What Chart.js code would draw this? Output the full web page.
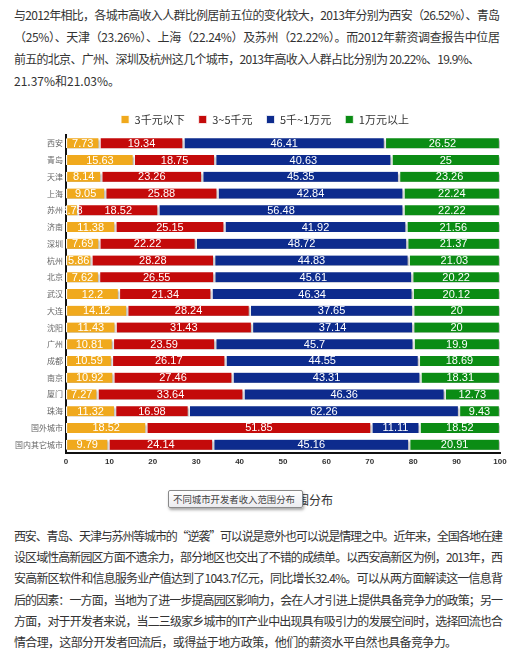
<!DOCTYPE html>
<html><head><meta charset="utf-8">
<script src="https://cdn.jsdelivr.net/npm/chart.js@4.4.0/dist/chart.umd.min.js"></script>
<style>
body{margin:0;width:517px;height:654px;background:#fff;position:relative;overflow:hidden;font-family:"Noto Sans CJK SC","Liberation Sans",sans-serif;color:#333}
.ln{position:absolute;left:14px;white-space:nowrap;font-size:12px;line-height:16px;height:16px}
#wrap{position:absolute;left:0;top:100px;width:517px;height:370px}
#cap{position:absolute;left:177px;top:492px;font-size:12px;line-height:16px;color:#333;white-space:nowrap}
#tip{position:absolute;left:168px;top:490px;width:135px;height:18px;box-sizing:border-box;border:1px solid #8a8a8a;border-radius:2px;background:linear-gradient(#ffffff,#ececf0);box-shadow:1px 2px 3px rgba(0,0,0,0.35);font-size:9.4px;line-height:16px;color:#444;padding-left:4px;white-space:nowrap;overflow:hidden}
</style></head>
<body>
<div class="ln" style="top:7px" data-w="486">与2012年相比，各城市高收入人群比例居前五位的变化较大，2013年分别为西安（26.52%）、青岛</div>
<div class="ln" style="top:29px" data-w="486">（25%）、天津（23.26%）、上海（22.24%）及苏州（22.22%）。而2012年薪资调查报告中位居</div>
<div class="ln" style="top:51px" data-w="466">前五的北京、广州、深圳及杭州这几个城市，2013年高收入人群占比分别为 20.22%、19.9%、</div>
<div class="ln" style="top:73px">21.37%和21.03%。</div>

<div id="wrap"><canvas id="c" width="517" height="370"></canvas></div>

<div id="cap">不同城市开发者收入范围分布</div>
<div id="tip">不同城市开发者收入范围分布</div>

<div class="ln" style="top:528px" data-w="489">西安、青岛、天津与苏州等城市的“逆袭”可以说是意外也可以说是情理之中。近年来，全国各地在建</div>
<div class="ln" style="top:549px" data-w="489">设区域性高新园区方面不遗余力，部分地区也交出了不错的成绩单。以西安高新区为例，2013年，西</div>
<div class="ln" style="top:570px" data-w="489">安高新区软件和信息服务业产值达到了1043.7亿元，同比增长32.4%。可以从两方面解读这一信息背</div>
<div class="ln" style="top:592px" data-w="489">后的因素：一方面，当地为了进一步提高园区影响力，会在人才引进上提供具备竞争力的政策；另一</div>
<div class="ln" style="top:613px" data-w="489">方面，对于开发者来说，当二三级家乡城市的IT产业中出现具有吸引力的发展空间时，选择回流也合</div>
<div class="ln" style="top:634px" data-w="443">情合理，这部分开发者回流后，或得益于地方政策，他们的薪资水平自然也具备竞争力。</div>

<script>
const cities = ['西安','青岛','天津','上海','苏州','济南','深圳','杭州','北京','武汉','大连','沈阳','广州','成都','南京','厦门','珠海','国外城市','国内其它城市'];
const seriesNames = ['3千元以下','3~5千元','5千~1万元','1万元以上'];
const below3k  = [7.73,15.63,8.14,9.05,2.78,11.38,7.69,5.86,7.62,12.2,14.12,11.43,10.81,10.59,10.92,7.27,11.32,18.52,9.79];
const k3to5    = [19.34,18.75,23.26,25.88,18.52,25.15,22.22,28.28,26.55,21.34,28.24,31.43,23.59,26.17,27.46,33.64,16.98,51.85,24.14];
const k5to10   = [46.41,40.63,45.35,42.84,56.48,41.92,48.72,44.83,45.61,46.34,37.65,37.14,45.7,44.55,43.31,46.36,62.26,11.11,45.16];
const above10k = [26.52,25,23.26,22.24,22.22,21.56,21.37,21.03,20.22,20.12,20,20,19.9,18.69,18.31,12.73,9.43,18.52,20.91];
const xTicks = [0,10,20,30,40,50,60,70,80,90,100];
const colors = ['#F0A91D','#C40A0A','#0D2B8D','#0B8C14'];

const shadowPlugin = {
  id:'shadow',
  beforeDatasetsDraw(chart){const c=chart.ctx;c.save();c.shadowColor='rgba(0,0,0,0.35)';c.shadowBlur=2;c.shadowOffsetX=1;c.shadowOffsetY=2;},
  afterDatasetsDraw(chart){chart.ctx.restore();}
};
const labelPlugin = {
  id:'vals',
  afterDatasetsDraw(chart){
    const c=chart.ctx;c.save();
    c.font='11px "Liberation Sans", Arial, sans-serif';c.fillStyle='#ffffff';c.textAlign='center';c.textBaseline='middle';
    chart.data.datasets.forEach((ds,i)=>{
      const meta=chart.getDatasetMeta(i);
      meta.data.forEach((el,j)=>{
        const x=(el.x+el.base)/2;
        c.fillText(String(ds.data[j]),x,el.y+0.5);
      });
    });
    c.restore();
  }
};
const legendShift = {
  id:'legendShift',
  afterLayout(chart){ if(chart.legend){chart.legend.left+=15;chart.legend.right+=15;} }
};

const datasets = [below3k,k3to5,k5to10,above10k].map((d,i)=>({
  label:seriesNames[i], data:d, backgroundColor:colors[i], borderColor:'#ffffff',
  borderWidth:{left:1.5,right:1.5,top:0,bottom:0}, borderSkipped:false, barThickness:10
}));

new Chart(document.getElementById('c'),{
  type:'bar',
  data:{labels:cities,datasets},
  plugins:[shadowPlugin,labelPlugin,legendShift],
  options:{
    indexAxis:'y',responsive:false,animation:false,events:[],
    layout:{padding:{left:0,right:17,top:0,bottom:0}},
    plugins:{
      tooltip:{enabled:false},
      legend:{position:'top',labels:{boxWidth:8,boxHeight:8,padding:14,color:'#333',font:{size:11,family:'"Noto Sans CJK SC", "Liberation Sans", sans-serif'}}}
    },
    scales:{
      x:{stacked:true,min:0,max:100,
        afterBuildTicks(s){s.ticks=xTicks.map(v=>({value:v}));},
        afterFit(s){s.height=17;},
        grid:{display:false,drawTicks:false},border:{display:true,color:'#111',width:2},
        ticks:{padding:4,color:'#333',font:{size:8,weight:'bold',family:'"Liberation Sans", Arial, sans-serif'}}},
      y:{stacked:true,
        afterFit(s){s.width=66;},
        grid:{display:false,drawTicks:false},border:{display:true,color:'#111',width:2},
        ticks:{padding:3,color:'#666',font:{size:8,family:'"Noto Sans CJK SC", serif'}}}
    }
  }
});

function fit(){
  document.querySelectorAll('.ln[data-w]').forEach(el=>{
    const target=+el.dataset.w;
    el.style.letterSpacing='0px';
    const r=document.createRange();r.selectNodeContents(el);
    const w=r.getBoundingClientRect().width;
    const n=[...el.textContent].length;
    el.style.letterSpacing=((target-w)/(n-1))+'px';
  });
}
fit();
if(document.fonts&&document.fonts.ready){document.fonts.ready.then(fit);}
</script>
</body></html>
